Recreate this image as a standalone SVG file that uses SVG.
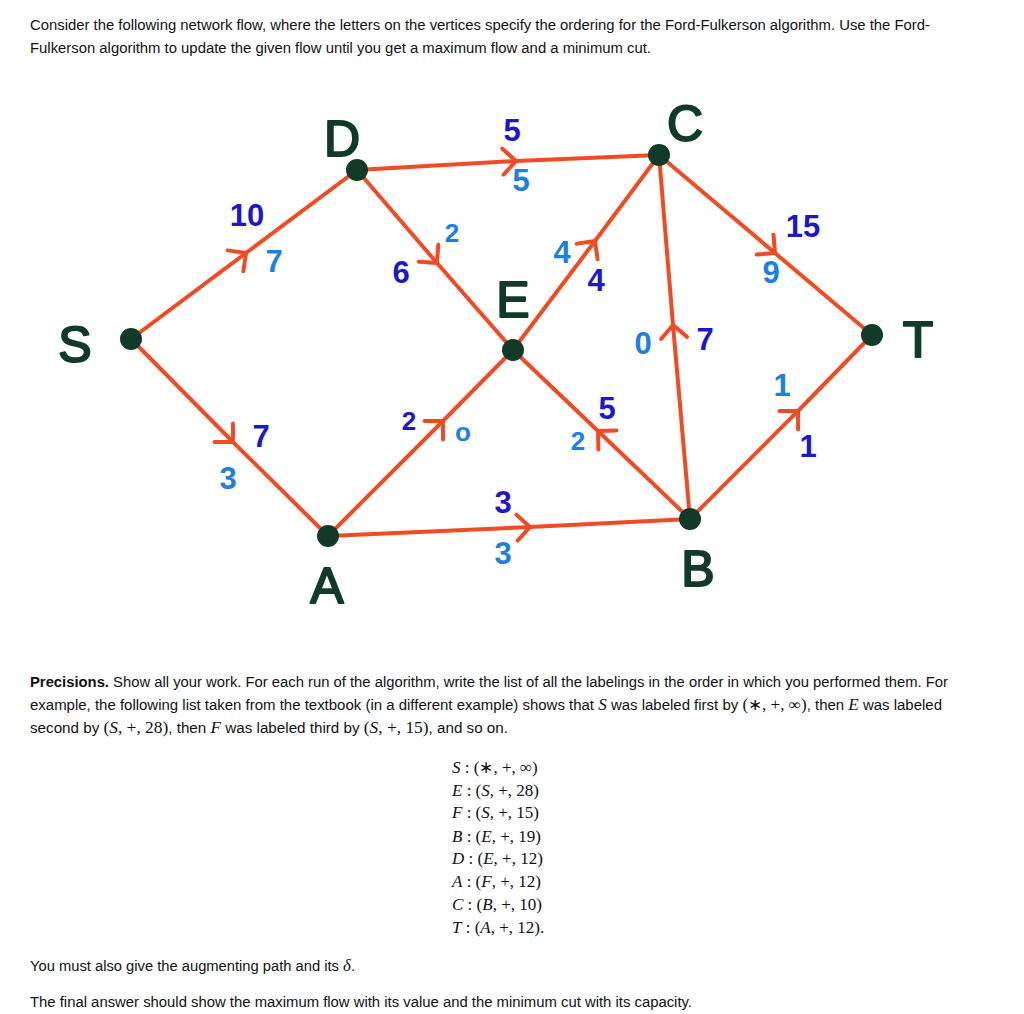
<svg xmlns="http://www.w3.org/2000/svg" width="1024" height="1014" viewBox="0 0 1024 1014">
<style>
.p{font-family:"Liberation Sans",Arial,sans-serif;font-size:14px;fill:#111}
.m{font-family:"Liberation Serif","Times New Roman",serif;font-size:16px;fill:#111}
.ml{font-family:"Liberation Serif","Times New Roman",serif;font-size:17px;fill:#111}
.i{font-style:italic}
.edge{fill:none;stroke:#ef4b24;stroke-width:4;stroke-linecap:round;marker-mid:url(#chev)}
.dot{fill:#113a29}
.lbl{font-family:"Liberation Sans",Arial,sans-serif;font-size:50px;fill:#113a29;stroke:#113a29;stroke-width:2;stroke-linejoin:round;text-anchor:middle}
.cap{font-family:"Liberation Sans",Arial,sans-serif;font-size:31px;font-weight:bold;fill:#1c17cc;text-anchor:middle}
.flw{font-family:"Liberation Sans",Arial,sans-serif;font-size:31px;font-weight:bold;fill:#1d7fe2;text-anchor:middle}
.sm{font-size:26px}
</style>
<defs>
<marker id="chev" markerUnits="userSpaceOnUse" viewBox="-18 -16 22 32" refX="0" refY="0" markerWidth="22" markerHeight="32" orient="auto" overflow="visible">
<path d="M -13 -13 L 0 0 L -13 13" fill="none" stroke="#ef4b24" stroke-width="4" stroke-linecap="round" stroke-linejoin="round"/>
</marker>
</defs>
<rect width="1024" height="1014" fill="#fff"/>
<text class="p" x="30" y="30" textLength="900" lengthAdjust="spacingAndGlyphs">Consider the following network flow, where the letters on the vertices specify the ordering for the Ford-Fulkerson algorithm. Use the Ford-</text>
<text class="p" x="30" y="53" textLength="621" lengthAdjust="spacingAndGlyphs">Fulkerson algorithm to update the given flow until you get a maximum flow and a minimum cut.</text>
<g id="connectors">
<path id="e-SD" class="edge" d="M131 339 L246 253 L357 170"/>
<path id="e-DC" class="edge" d="M357 170 L516 161 L659 155"/>
<path id="e-DE" class="edge" d="M357 170 L437 263 L513 350"/>
<path id="e-EC" class="edge" d="M513 350 L595 241 L659 155"/>
<path id="e-CT" class="edge" d="M659 155 L775 253 L872 335"/>
<path id="e-SA" class="edge" d="M131 339 L233 442 L328 536"/>
<path id="e-AE" class="edge" d="M328 536 L443 421 L513 350"/>
<path id="e-AB" class="edge" d="M328 536 L530 527 L690 519"/>
<path id="e-BE" class="edge" d="M690 519 L598 431 L513 350"/>
<path id="e-BC" class="edge" d="M690 519 L673 325 L659 155"/>
<path id="e-BT" class="edge" d="M690 519 L798 411 L872 335"/>
</g>
<g id="edge-labels">
<text class="cap" x="247" y="226">10</text>
<text class="flw" x="274" y="272">7</text>
<text class="cap" x="512" y="141">5</text>
<text class="flw" x="521" y="191">5</text>
<text class="flw sm" x="452" y="242">2</text>
<text class="cap" x="401" y="283">6</text>
<text class="flw" x="562" y="263">4</text>
<text class="cap" x="596" y="291">4</text>
<text class="cap" x="803" y="237">15</text>
<text class="flw" x="771" y="283">9</text>
<text class="flw" x="643" y="354">0</text>
<text class="cap" x="705" y="350">7</text>
<text class="cap" x="261" y="447">7</text>
<text class="flw" x="228" y="489">3</text>
<text class="cap sm" x="409" y="430">2</text>
<text class="flw sm" x="463" y="441">o</text>
<text class="cap" x="503" y="513">3</text>
<text class="flw" x="503" y="564">3</text>
<text class="cap" x="607" y="419">5</text>
<text class="flw sm" x="578" y="450">2</text>
<text class="flw" x="782" y="396">1</text>
<text class="cap" x="808" y="457">1</text>
</g>
<g id="node-S"><circle class="dot" cx="131" cy="339" r="11"/><text class="lbl" x="75" y="362">S</text></g>
<g id="node-D"><circle class="dot" cx="357" cy="170" r="11"/><text class="lbl" x="342" y="156">D</text></g>
<g id="node-C"><circle class="dot" cx="659" cy="155" r="11"/><text class="lbl" x="685" y="141">C</text></g>
<g id="node-E"><circle class="dot" cx="513" cy="350" r="11"/><text class="lbl" x="513" y="317">E</text></g>
<g id="node-T"><circle class="dot" cx="872" cy="335" r="11"/><text class="lbl" x="918" y="357">T</text></g>
<g id="node-A"><circle class="dot" cx="328" cy="536" r="11"/><text class="lbl" x="327" y="603">A</text></g>
<g id="node-B"><circle class="dot" cx="690" cy="519" r="11"/><text class="lbl" x="698" y="586">B</text></g>
<text class="p" x="30" y="687" textLength="918" lengthAdjust="spacingAndGlyphs"><tspan font-weight="bold">Precisions.</tspan> Show all your work. For each run of the algorithm, write the list of all the labelings in the order in which you performed them. For</text>
<text class="p" x="30" y="710" textLength="912" lengthAdjust="spacingAndGlyphs">example, the following list taken from the textbook (in a different example) shows that <tspan class="m i">S</tspan> was labeled first by <tspan class="m">(∗, +, ∞)</tspan>, then <tspan class="m i">E</tspan> was labeled</text>
<text class="p" x="30" y="733" textLength="478" lengthAdjust="spacingAndGlyphs">second by <tspan class="m">(<tspan class="i">S</tspan>, +, 28)</tspan>, then <tspan class="m i">F</tspan> was labeled third by <tspan class="m">(<tspan class="i">S</tspan>, +, 15)</tspan>, and so on.</text>
<g class="ml">
<text x="452" y="773"><tspan class="i">S</tspan> : (∗, +, ∞)</text>
<text x="452" y="796"><tspan class="i">E</tspan> : (<tspan class="i">S</tspan>, +, 28)</text>
<text x="452" y="818"><tspan class="i">F</tspan> : (<tspan class="i">S</tspan>, +, 15)</text>
<text x="452" y="842"><tspan class="i">B</tspan> : (<tspan class="i">E</tspan>, +, 19)</text>
<text x="452" y="864"><tspan class="i">D</tspan> : (<tspan class="i">E</tspan>, +, 12)</text>
<text x="452" y="887"><tspan class="i">A</tspan> : (<tspan class="i">F</tspan>, +, 12)</text>
<text x="452" y="910"><tspan class="i">C</tspan> : (<tspan class="i">B</tspan>, +, 10)</text>
<text x="452" y="933"><tspan class="i">T</tspan> : (<tspan class="i">A</tspan>, +, 12).</text>
</g>
<text class="p" x="30" y="971" textLength="325" lengthAdjust="spacingAndGlyphs">You must also give the augmenting path and its <tspan class="m i">δ</tspan>.</text>
<text class="p" x="30" y="1007" textLength="662" lengthAdjust="spacingAndGlyphs">The final answer should show the maximum flow with its value and the minimum cut with its capacity.</text>
</svg>
